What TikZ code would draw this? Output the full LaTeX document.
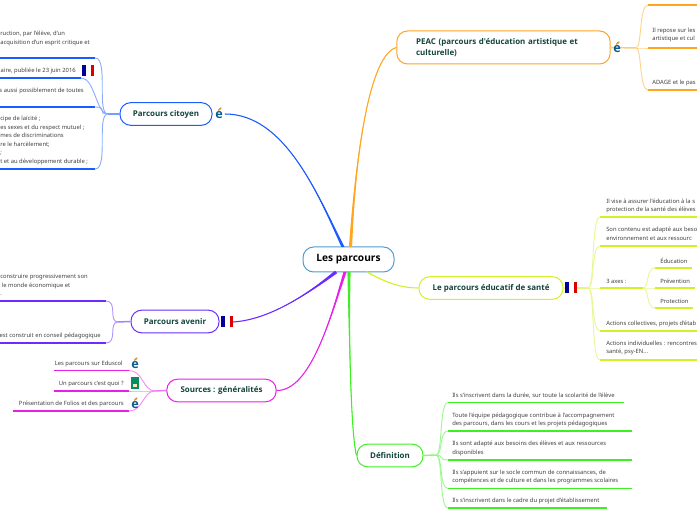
\documentclass[tikz,border=0pt]{standalone}
\usepackage{fontspec}
\setmainfont{Noto Sans}
\newfontfamily\topicfont{Open Sans}
\definecolor{cMain}{HTML}{4F9BD0}
\definecolor{cCit}{HTML}{1A5CFF}
\definecolor{cAve}{HTML}{6A2CFF}
\definecolor{cSrc}{HTML}{E81FE8}
\definecolor{cPea}{HTML}{FFA51F}
\definecolor{cSan}{HTML}{D2F02A}
\definecolor{cDef}{HTML}{3CF021}
\definecolor{cTxt}{HTML}{12443C}
\definecolor{cIco}{HTML}{0B5C8E}
\newcommand{\taper}[7]{\fill[#1] ($#2+(-#6,-#7)$) .. controls #3 and #4 .. #5 .. controls #4 and #3 .. ($#2+(#6,#7)$) -- cycle;}
\tikzset{
  mainbox/.style={draw=cMain,line width=0.75pt,fill=white,rounded corners=8pt,inner sep=0pt,minimum width=68.25pt,minimum height=18.75pt,font=\fontsize{7.6}{8}\selectfont\topicfont\bfseries,text=black},
  topicbox/.style={draw=#1,line width=0.75pt,fill=white,rounded corners=8pt,inner sep=0pt,minimum height=17pt,font=\fontsize{5.95}{8.2}\selectfont\topicfont\bfseries,text=cTxt},
  leaf/.style={anchor=west,inner sep=0pt,font=\fontsize{4.38}{6.4}\selectfont,text=black!75,align=left},
  leafr/.style={anchor=east,inner sep=0pt,font=\fontsize{4.38}{6.4}\selectfont,text=black!75,align=left},
  under/.style={draw=#1,line width=1.4pt},
  bend/.style={draw=#1!50!white,line width=0.7pt},
  stub/.style={draw=#1!60!white,line width=1.1pt},
  branch/.style={draw=#1,line width=0.8pt},
  eicon/.style={inner sep=0pt,font=\fontsize{9.5}{10}\selectfont\topicfont\bfseries,text=cIco},
}
\usetikzlibrary{calc}
\begin{document}
\begin{tikzpicture}[x=0.75pt,y=-0.75pt]
\useasboundingbox (0,0) rectangle (697,520);
\clip (0,0) rectangle (697,520);

% centre et branches
\node[mainbox] (main) at (348.5,259.5) {Les parcours};
\node[topicbox=cCit,minimum width=69pt] (cit) at (166,114) {Parcours citoyen};
\node[topicbox=cAve,minimum width=66pt] (ave) at (175,321.5) {Parcours avenir};
\node[topicbox=cSrc,minimum width=82pt] (src) at (221.5,390.5) {Sources : généralités};
\node[topicbox=cPea,minimum width=160pt,minimum height=24.75pt,align=left,text width=131pt] (pea) at (503.5,47.5) {PEAC (parcours d'éducation artistique et\\culturelle)};
\node[topicbox=cSan,minimum width=108pt] (san) at (491,288) {Le parcours éducatif de santé};
\node[topicbox=cDef,minimum width=49.5pt] (def) at (390,455.5) {Définition};

\coordinate (citend) at (225,114);
\coordinate (aveend) at (233,322);
\coordinate (mcit) at (343,247);
\coordinate (mpea) at (350.5,247);
\coordinate (msan) at (367,272);
\coordinate (mave) at (336,272);
\coordinate (msrc) at (345,272);
\coordinate (mdef) at (349,272);
\draw[branch=cCit] (mcit) .. controls (318,195) and (285,114) .. (citend);
\draw[branch=cPea] (mpea) .. controls (356,150) and (370,55) .. (pea.west);
\draw[branch=cSan] (msan) .. controls (385,282) and (400,288) .. (san.west);
\draw[branch=cAve] (mave) .. controls (300,300) and (265,320) .. (aveend);
\draw[branch=cSrc] (msrc) .. controls (330,320) and (310,391) .. (src.east);
\draw[branch=cDef] (mdef) .. controls (349,340) and (351,435) .. (def.west);
\taper{cCit}{(mcit)}{(318,195)}{(285,114)}{(citend)}{1.6}{0}
\taper{cPea}{(mpea)}{(356,150)}{(370,55)}{(pea.west)}{1.6}{0}
\taper{cSan}{(msan)}{(385,282)}{(400,288)}{(san.west)}{1}{1}
\taper{cAve}{(mave)}{(300,300)}{(265,320)}{(aveend)}{1.2}{1.2}
\taper{cSrc}{(msrc)}{(330,320)}{(310,391)}{(src.east)}{1.6}{0}
\taper{cDef}{(mdef)}{(349,340)}{(351,435)}{(def.west)}{1.6}{0}

% moyeux
\coordinate (hubcit) at (108,114);
\coordinate (hubave) at (118,322);
\coordinate (hubsrc) at (155,391);
\coordinate (hubpea) at (636,48);
\coordinate (hubsan) at (588,288);
\coordinate (hubaxe) at (643,288);
\coordinate (hubdef) at (436,455);
\draw[stub=cCit] (cit.west) -- (hubcit);
\draw[stub=cAve] (ave.west) -- (hubave);
\draw[stub=cSrc] (src.west) -- (hubsrc);
\draw[stub=cPea] (pea.east) -- (hubpea);
\draw[stub=cSan] (san.east) -- (hubsan);
\draw[stub=cDef] (def.east) -- (hubdef);

% feuilles a gauche
\foreach \n/\xa/\xb/\yy in {ca/0/95/58,cb/0/81/78,cc/0/95/107,cd/0/95/169}{
  \coordinate (\n a) at (\xa,\yy);
  \coordinate (\n b) at (\xb,\yy);
  \draw[under=cCit] (\n a) -- (\n b);
  \draw[bend=cCit] (hubcit) .. controls +(-12,0) and +(14,0) .. (\n b);
}
\foreach \n/\xa/\xb/\yy in {aa/0/106/301,ab/0/106/343}{
  \coordinate (\n a) at (\xa,\yy);
  \coordinate (\n b) at (\xb,\yy);
  \draw[under=cAve] (\n a) -- (\n b);
  \draw[bend=cAve] (hubave) .. controls +(-10,0) and +(12,0) .. (\n b);
}
\foreach \n/\xa/\xb/\yy in {sa/54/129/370.5,sb/54/129/391,sc/13/129/411}{
  \coordinate (\n a) at (\xa,\yy);
  \coordinate (\n b) at (\xb,\yy);
  \draw[under=cSrc] (\n a) -- (\n b);
  \draw[bend=cSrc] (hubsrc) .. controls +(-12,0) and +(14,0) .. (\n b);
}

% feuilles a droite
\foreach \n/\xa/\xb/\yy in {pa/648/697/5,pb/648/697/48,pc/648/697/90}{
  \coordinate (\n a) at (\xa,\yy);
  \coordinate (\n b) at (\xb,\yy);
  \draw[under=cPea] (\n a) -- (\n b);
  \draw[bend=cPea] (hubpea) .. controls +(6,0) and +(-9,0) .. (\n a);
}
\foreach \n/\xa/\xb/\yy in {ha/600/697/217,hb/600/697/246,hc/600/643/288,hd/600/697/331,he/600/697/360}{
  \coordinate (\n a) at (\xa,\yy);
  \coordinate (\n b) at (\xb,\yy);
  \draw[under=cSan] (\n a) -- (\n b);
  \draw[bend=cSan] (hubsan) .. controls +(7,0) and +(-9,0) .. (\n a);
}
\foreach \n/\xa/\xb/\yy in {xa/655/692/268,xb/655/695/288,xc/655/693/308}{
  \coordinate (\n a) at (\xa,\yy);
  \coordinate (\n b) at (\xb,\yy);
  \draw[under=cSan] (\n a) -- (\n b);
  \draw[bend=cSan] (hubaxe) .. controls +(6,0) and +(-9,0) .. (\n a);
}
\foreach \n/\xa/\xb/\yy in {da/448/624/402.5,db/448/632/431,dc/448/632/460,dd/448/632/488.5,de/448/607/508}{
  \coordinate (\n a) at (\xa,\yy);
  \coordinate (\n b) at (\xb,\yy);
  \draw[under=cDef] (\n a) -- (\n b);
  \draw[bend=cDef] (hubdef) .. controls +(7,0) and +(-9,0) .. (\n a);
}

% textes parcours citoyen
\node[leaf] (tca) at (0,38.5) {ruction, par l'élève, d'un\\acquisition d'un esprit critique et};
\node[leafr] (tcb) at (76,71) {aire, publiée le 23 juin 2016};
\node[leafr] (tcc) at (84,91) {s aussi possiblement de toutes};
\node[leaf] (tcd) at (0,140.5) {cipe de laïcité ;\\es sexes et du respect mutuel ;\\mes de discriminations\\re le harcèlement;\\;\\t et au développement durable ;};

% textes parcours avenir
\node[leaf] (taa) at (0,285) {construire progressivement son\\\ le monde économique et\\.};
\node[leafr] (tab) at (101,336) {est construit en conseil pédagogique};

% textes sources
\node[leafr] (tsa) at (123,364) {Les parcours sur Eduscol};
\node[leafr] (tsb) at (124,384) {Un parcours c'est quoi ?};
\node[leafr] (tsc) at (124,404) {Présentation de Folios et des parcours};

% textes PEAC
\node[leaf] (tpa) at (652,35) {Il repose sur les\\artistique et cul};
\node[leaf] (tpb) at (652,83) {ADAGE et le pas};

% textes sante
\node[leaf] (tha) at (606,206) {Il vise à assurer l'éducation à la s\\protection de la santé des élèves};
\node[leaf] (thb) at (606,234) {Son contenu est adapté aux beso\\environnement et aux ressourc};
\node[leaf] (thc) at (606,281) {3 axes :};
\node[leaf] (thd) at (606,324) {Actions collectives, projets d'étab};
\node[leaf] (the) at (606,348) {Actions individuelles : rencontres\\santé, psy-EN...};
\node[leaf] (txa) at (660,261) {Éducation};
\node[leaf] (txb) at (660,281) {Prévention};
\node[leaf] (txc) at (660,301) {Protection};

% textes definition
\node[leaf] (tda) at (452,396) {Ils s'inscrivent dans la durée, sur toute la scolarité de l'élève};
\node[leaf] (tdb) at (452,420) {Toute l'équipe pédagogique contribue à l'accompagnement\\des parcours, dans les cours et les projets pédagogiques};
\node[leaf] (tdc) at (452,448.5) {Ils sont adapté aux besoins des élèves et aux ressources\\disponibles};
\node[leaf] (tdd) at (452,477) {Ils s'appuient sur le socle commun de connaissances, de\\compétences et de culture et dans les programmes scolaires};
\node[leaf] (tde) at (452,501) {Ils s'inscrivent dans le cadre du projet d'établissement};

% icones
\foreach \n/\ix/\iy in {ia/219/114,ib/135/364,ic/135/404,id/617/48}{
  \node[eicon] (\n) at (\ix,\iy) {é};
  \draw[cPea,line width=0.6pt] (\ix-0.5,\iy-3.5) -- (\ix+2,\iy-6.5);
}
\foreach \n/\ix/\iy in {fa/82/65,fb/221/316,fc/565/282}{
  \fill[white] (\ix,\iy) rectangle +(11.5,11);
  \fill[blue!60!black] (\ix,\iy) rectangle +(3.5,11);
  \fill[red!85!black] (\ix+8.5,\iy) rectangle +(3,11);
}
\fill[cIco!70!green] (131,377) rectangle (139,389);
\fill[white!70!cPea] (133,384) rectangle (137,387);
\end{tikzpicture}
\end{document}
